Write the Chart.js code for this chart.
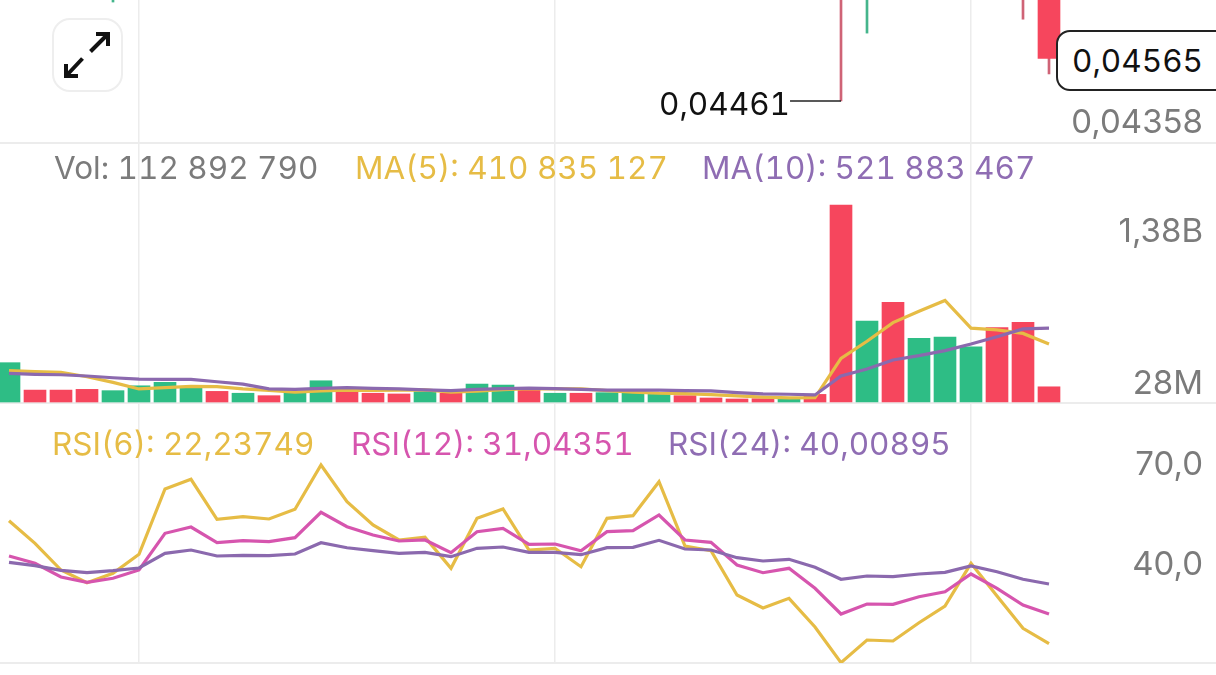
<!DOCTYPE html>
<html>
<head>
<meta charset="utf-8">
<title>Vol / RSI</title>
<script src="https://cdn.jsdelivr.net/npm/chart.js@4"></script>
<style>
  html, body { margin: 0; padding: 0; background: #fff; }
  #wrap { position: relative; width: 1216px; height: 675px; overflow: hidden; font-family: Inter, sans-serif; }
  #chart { position: absolute; left: 0; top: 0; }
  .txt { position: absolute; font-size: 31.5px; line-height: 36px; white-space: pre; font-variant-numeric: tabular-nums; }
  .gray { color: #7b7b7b; }
  .yellow { color: #e6bc45; }
  .purple { color: #8f6db3; }
  .pink { color: #d655ae; }
  #lastPrice {
    position: absolute; left: 1056px; top: 30px; width: 170px; height: 57px;
    border: 2px solid #222; border-radius: 14px; background: #fff;
  }
  #expand {
    position: absolute; left: 52px; top: 18px; width: 67px; height: 70px;
    border: 2.5px solid #eeeeee; border-radius: 18px; background: #fff;
  }
</style>
</head>
<body>
<div id="wrap">
  <canvas id="chart" width="1216" height="675"></canvas>

  <div id="expand">
    <svg width="67" height="70" viewBox="0 0 67 70" fill="none" stroke="#111" stroke-width="4">
      <path d="M36.5 31.5 L53 15 M42 14 H54 V26"/>
      <path d="M28.5 38.5 L13 55 M12 44 V56 H24"/>
    </svg>
  </div>

  <div id="lastPrice"></div>
  <div class="txt" style="right:13px;top:43px;color:#111">0,04565</div>
  <div class="txt" style="right:426px;top:86px;color:#111">0,04461</div>

  <div class="txt gray" style="left:54px;top:150px">Vol: 112 892 790</div>
  <div class="txt yellow" style="left:355px;top:150px">MA(5): 410 835 127</div>
  <div class="txt purple" style="left:702px;top:150px">MA(10): 521 883 467</div>

  <div class="txt yellow" style="left:52px;top:426px">RSI(6): 22,23749</div>
  <div class="txt pink" style="left:351px;top:426px">RSI(12): 31,04351</div>
  <div class="txt purple" style="left:668px;top:426px">RSI(24): 40,00895</div>
</div>

<script>
// 数据：全部从图上读取（估值）
const volumes = [281e6,90e6,90e6,95e6,86e6,120e6,144e6,113e6,81e6,68e6,51e6,72e6,155e6,90e6,68e6,63e6,79e6,68e6,132e6,125e6,95e6,68e6,68e6,72e6,72e6,60e6,51e6,35e6,28e6,30e6,30e6,60e6,1380e6,571e6,702e6,451e6,460e6,392e6,525e6,562e6,112892790];
const volDirs = ['u','d','d','d','u','u','u','u','d','u','d','u','u','d','d','d','u','d','u','u','d','u','d','u','u','u','d','d','d','d','u','d','d','u','d','u','u','u','d','d','d'];
const volMa5 = [225e6,218e6,214e6,183e6,144e6,98e6,107e6,116e6,114e6,98e6,88e6,76e6,84e6,90e6,88e6,90e6,91e6,76e6,82e6,93e6,100e6,98e6,98e6,86e6,76e6,68e6,65e6,58e6,49e6,41e6,36e6,38e6,311e6,430e6,560e6,640e6,715e6,522e6,510e6,485e6,410835127];
const volMa10 = [207e6,200e6,197e6,188e6,176e6,167e6,165e6,165e6,148e6,132e6,98e6,95e6,102e6,107e6,102e6,98e6,92e6,86e6,95e6,100e6,104e6,100e6,95e6,90e6,90e6,90e6,86e6,84e6,72e6,63e6,61e6,56e6,188e6,237e6,300e6,330e6,365e6,411e6,462e6,516e6,521883467];

const rsi6 = [58.84,52.11,44.17,40.39,43.18,48.84,68.27,71.16,59.26,60.03,59.35,62.23,75.42,64.49,57.56,53.1,53.9,44.67,59.55,62.32,50.12,50.63,45.15,59.55,60.33,70.45,51.31,49.91,36.73,32.86,35.74,27.2,16.6,23.33,23.04,28.48,33.45,46.16,36.43,26.82,22.24];
const rsi12 = [48.33,46.16,42.08,40.5,41.7,44.17,55.09,56.96,52.29,52.89,52.59,53.78,61.34,57.05,54.58,52.8,53.1,49.32,55.57,56.58,51.82,51.9,49.91,55.57,55.86,60.54,53.1,52.41,45.65,43.36,44.67,38.72,31.07,34.05,33.96,36.22,37.71,42.98,38.72,33.75,31.04];
const rsi24 = [46.46,45.45,44.08,43.36,43.96,44.76,49.14,50.12,48.33,48.54,48.42,48.93,52.29,50.8,49.91,49.14,49.43,48.13,50.63,51.01,49.43,49.43,48.72,50.8,50.92,53.0,50.42,50.12,47.83,46.85,47.35,44.97,41.4,42.38,42.17,42.98,43.48,45.36,43.66,41.4,40.01];

// K线只露出下半截，上沿超出可视范围
const wickIndex = [4,32,33,39,40];
const wickLow = [0.04703,0.04461,0.04627,0.04661,0.04527];
const wickDirs = ['u','d','u','d','d'];
const bodyIndex = [40];
const bodyLow = [0.04565];
const priceOffTop = 0.0480;
const lowMarkIndex = [30.04,32];
const lowMarkValue = 0.04461;

// 刻度
const gridIndex = [5,21,37];
const priceTicks = [0.04358];
const priceLabels = ['0,04358'];
const volTicks = [0,132e6,1190e6];   // 文字位置比实际值偏移，和原图一致
const volLabels = ['','28M','1,38B'];
const rsiTicks = [16.49,40,70];
const rsiLabels = ['','40,0','70,0'];

const RED = '#f6465d';
const GREEN = '#2ebd85';
const WICK_RED = '#cf6376';
const WICK_GREEN = '#45b58c';
const YELLOW = '#e6bc45';
const PURPLE = '#8b69ae';
const PINK = '#d655ae';
const GRID = '#ececec';

const FIRST_X = -9 / 26;
const LAST_X = (1216 - 9) / 26;

function xy(values) {
  return values.map((v, i) => ({ x: i, y: v }));
}

function lineSet(label, values, color, axis, order) {
  return {
    type: 'line',
    label,
    data: xy(values),
    yAxisID: axis,
    borderColor: color,
    borderWidth: 3.2,
    pointRadius: 0,
    tension: 0,
    order
  };
}

function paneAxis(weight, ticks, labels, labelOffset, min, max) {
  return {
    position: 'right',
    stack: 'panes',
    stackWeight: weight,
    weight: 0,
    min,
    max,
    // 文字画在图内，不占布局空间
    afterFit: s => {
      s.width = 0;
      s.paddingTop = 0;
      s.paddingBottom = 0;
    },
    afterBuildTicks: s => { s.ticks = ticks.map(value => ({ value })); },
    border: { display: false },
    grid: {
      drawTicks: false,
      color: c => (c.index === 0 ? GRID : 'transparent'),
      lineWidth: 2
    },
    ticks: {
      mirror: true,
      padding: -13,
      labelOffset,
      color: '#7b7b7b',
      font: { family: 'Inter', size: 33 },
      callback: (v, i) => labels[i]
    }
  };
}

const datasets = [
  {
    type: 'bar', label: 'Wick',
    data: wickIndex.map((x, i) => ({ x, y: [wickLow[i], priceOffTop] })),
    yAxisID: 'yPrice',
    backgroundColor: wickDirs.map(d => (d === 'u' ? WICK_GREEN : WICK_RED)),
    barThickness: 2, grouped: false, order: 6
  },
  {
    type: 'bar', label: 'Body',
    data: bodyIndex.map((x, i) => ({ x, y: [bodyLow[i], priceOffTop] })),
    yAxisID: 'yPrice',
    backgroundColor: RED,
    barThickness: 22, grouped: false, order: 5
  },
  {
    type: 'line', label: 'Low',
    data: lowMarkIndex.map(x => ({ x, y: lowMarkValue })),
    yAxisID: 'yPrice',
    borderColor: '#222', borderWidth: 1.5, pointRadius: 0, order: 4
  },
  {
    type: 'bar', label: 'Vol',
    data: xy(volumes),
    yAxisID: 'yVol',
    backgroundColor: volDirs.map(d => (d === 'u' ? GREEN : RED)),
    barThickness: 22, grouped: false, order: 7
  },
  lineSet('MA(5)', volMa5, YELLOW, 'yVol', 3),
  lineSet('MA(10)', volMa10, PURPLE, 'yVol', 2),
  lineSet('RSI(6)', rsi6, YELLOW, 'yRsi', 3),
  lineSet('RSI(12)', rsi12, PINK, 'yRsi', 2),
  lineSet('RSI(24)', rsi24, PURPLE, 'yRsi', 1)
];

new Chart(document.getElementById('chart').getContext('2d'), {
  data: { datasets },
  options: {
    responsive: false,
    animation: false,
    layout: { autoPadding: false, padding: { bottom: 12 } },
    plugins: { legend: { display: false }, tooltip: { enabled: false } },
    scales: {
      x: {
        type: 'linear',
        offset: false,
        min: FIRST_X,
        max: LAST_X,
        afterFit: s => { s.height = 0; },
        afterBuildTicks: s => { s.ticks = gridIndex.map(value => ({ value })); },
        border: { display: false },
        grid: { offset: false, color: GRID, lineWidth: 1.5, drawTicks: false },
        ticks: { display: false }
      },
      yPrice: paneAxis(143, priceTicks, priceLabels, -20, 0.04358, 0.04708),
      yVol: paneAxis(260, volTicks, volLabels, 0, 0, 1812e6),
      yRsi: paneAxis(260, rsiTicks, rsiLabels, -18.5, 16.49, 93.87)
    }
  }
});
</script>
</body>
</html>
